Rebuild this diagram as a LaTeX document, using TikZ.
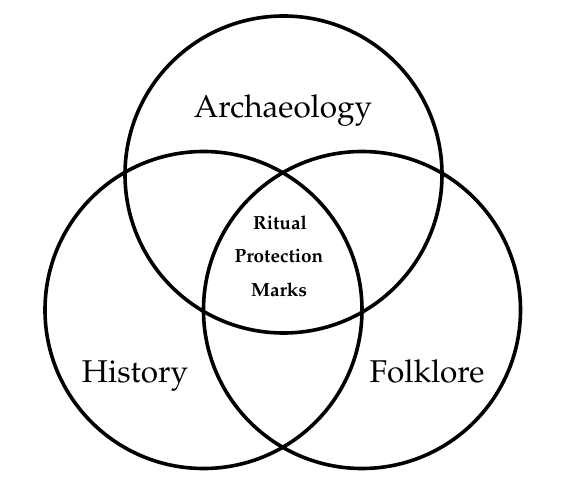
\documentclass[tikz,border=0pt]{standalone}
\usepackage[T1]{fontenc}
\usepackage{mathpazo}
\begin{document}
\begin{tikzpicture}[x=1pt,y=-1pt,
  ring/.style={draw=black,line width=3.6pt},
  bigtxt/.style={anchor=base,inner sep=0pt,font=\fontsize{31.5}{36}\selectfont},
  midtxt/.style={anchor=base,inner sep=0pt,font=\fontsize{19}{22}\selectfont\bfseries}]
\useasboundingbox[fill=white] (0,0) rectangle (571,489);
\draw[ring] (283.5,174.5) circle[radius=158.5];
\draw[ring] (203.5,310) circle[radius=158.5];
\draw[ring] (362,310) circle[radius=158.5];
\node[bigtxt] (arch) at (283,118) {Archaeology};
\node[bigtxt] (hist) at (135,383) {History};
\node[bigtxt] (folk) at (427,383) {Folklore};
\node[midtxt] (rit) at (280,230) {Ritual};
\node[midtxt] (prot) at (279,263) {Protection};
\node[midtxt] (mark) at (279,297) {Marks};
\end{tikzpicture}
\end{document}
